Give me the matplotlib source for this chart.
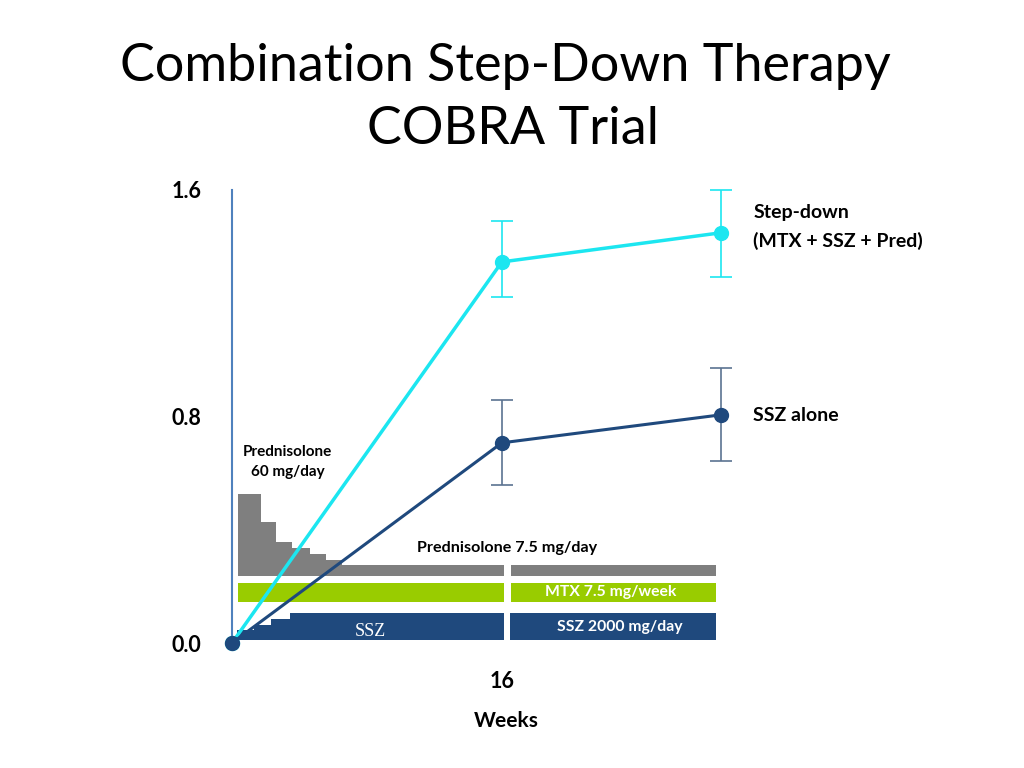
import numpy as np
import matplotlib
matplotlib.use("Agg")
import matplotlib.pyplot as plt

plt.rcParams['font.family'] = ['Lato', 'DejaVu Sans']

# visit weeks and mean response (with error bar ends)
weeks = [0, 16, 29]
stepdown = [0.0, 1.346, 1.449]
stepdown_lo = [0.0, 1.223, 1.293]
stepdown_hi = [0.0, 1.491, 1.600]
ssz_alone = [0.0, 0.707, 0.806]
ssz_lo = [0.0, 0.558, 0.643]
ssz_hi = [0.0, 0.859, 0.972]

# drug schedule drawing (weeks / y units)
pred_edges = [0.36, 1.72, 2.61, 3.56, 4.62, 5.57, 6.52, 16.12]
pred_tops = [0.527, 0.428, 0.357, 0.336, 0.314, 0.293, 0.276]
pred_bottom = 0.237
late_start, late_end = 16.53, 28.68
mtx_band = (0.145, 0.212)
ssz_edges = [0.3, 1.3, 2.31, 3.44, 16.12]
ssz_tops = [0.046, 0.064, 0.085, 0.106]
ssz_bottom = 0.011

CYAN = '#1CE6F0'
DARK = '#1F497D'
GRAY = '#7F7F7F'
GREEN = '#99CC00'

fig = plt.figure(figsize=(10.24, 7.68), dpi=100)
ax = fig.add_axes([232 / 1024, 1 - 643 / 768, 506 / 1024, 453 / 768])
ax.set_xlim(0, 30)
ax.set_ylim(0, 1.6)

# prednisolone taper
ax.bar(pred_edges[:-1], np.array(pred_tops) - pred_bottom, width=np.diff(pred_edges),
       bottom=pred_bottom, align='edge', color=GRAY, linewidth=0)
ax.bar([late_start], [pred_tops[-1] - pred_bottom], width=[late_end - late_start],
       bottom=pred_bottom, align='edge', color=GRAY, linewidth=0)
# MTX
ax.bar([pred_edges[0], late_start], [mtx_band[1] - mtx_band[0]] * 2,
       width=[pred_edges[-1] - pred_edges[0], late_end - late_start],
       bottom=mtx_band[0], align='edge', color=GREEN, linewidth=0)
# SSZ
ax.bar(ssz_edges[:-1], np.array(ssz_tops) - ssz_bottom, width=np.diff(ssz_edges),
       bottom=ssz_bottom, align='edge', color=DARK, linewidth=0)
ax.bar([late_start - 0.05], [ssz_tops[-1] - ssz_bottom], width=[late_end - late_start + 0.05],
       bottom=ssz_bottom, align='edge', color=DARK, linewidth=0)

# lines with error bars
sd = np.array(stepdown)
ax.errorbar(weeks[1:], sd[1:], yerr=[sd[1:] - np.array(stepdown_lo[1:]), np.array(stepdown_hi[1:]) - sd[1:]],
            fmt='none', ecolor=CYAN, elinewidth=1.2, capsize=8, capthick=1.2, clip_on=False)
ax.plot(weeks, stepdown, color=CYAN, lw=2.5, marker='o', ms=10, clip_on=False, zorder=4)
sa = np.array(ssz_alone)
ax.errorbar(weeks[1:], sa[1:], yerr=[sa[1:] - np.array(ssz_lo[1:]), np.array(ssz_hi[1:]) - sa[1:]],
            fmt='none', ecolor='#5B7391', elinewidth=1.2, capsize=8, capthick=1.2, clip_on=False)
ax.plot(weeks, ssz_alone, color=DARK, lw=2.2, marker='o', ms=10, clip_on=False, zorder=5)

# axes styling
for s in ['top', 'right', 'bottom']:
    ax.spines[s].set_visible(False)
ax.spines['left'].set_color('#4F81BD')
ax.spines['left'].set_linewidth(1.5)
ax.set_yticks([0, 0.8, 1.6])
ax.set_yticklabels(['0.0', '0.8', '1.6'], fontsize=15.5, fontweight='bold')
ax.set_xticks([16])
ax.set_xticklabels(['16'], fontsize=15.5, fontweight='bold')
ax.tick_params(axis='both', length=0)
ax.tick_params(axis='y', pad=22)
ax.tick_params(axis='x', pad=20)
ax.set_xlabel('Weeks', fontsize=15, fontweight='bold')
ax.xaxis.set_label_coords((506 - 232) / 506, -0.15)

# annotations
ax.text(30.9, 1.519, 'Step-down', fontsize=14, fontweight='bold', va='center', ha='left')
ax.text(30.9, 1.42, '(MTX + SSZ + Pred)', fontsize=14, fontweight='bold', va='center', ha='left')
ax.text(30.9, 0.802, 'SSZ alone', fontsize=14, fontweight='bold', va='center', ha='left')
ax.text(3.3, 0.64, 'Prednisolone\n60 mg/day', fontsize=11, fontweight='bold', va='center',
        ha='center', linespacing=1.5)
ax.text(16.3, 0.336, 'Prednisolone 7.5 mg/day', fontsize=11.6, fontweight='bold', va='center', ha='center')
ax.text(22.46, 0.18, 'MTX 7.5 mg/week', fontsize=11.3, fontweight='bold', va='center', ha='center',
        color='white')
ax.text(23.0, 0.056, 'SSZ 2000 mg/day', fontsize=11.3, fontweight='bold', va='center', ha='center',
        color='white')
ax.text(8.18, 0.042, 'SSZ', fontsize=13, family='Liberation Serif', va='center', ha='center',
        color='white')

fig.text(505 / 1024, 1 - 67 / 768, 'Combination Step-Down Therapy', fontsize=37.5, ha='center', va='center')
fig.text(513 / 1024, 1 - 130 / 768, 'COBRA Trial', fontsize=37.5, ha='center', va='center')

fig.savefig('out.png', dpi=100)
